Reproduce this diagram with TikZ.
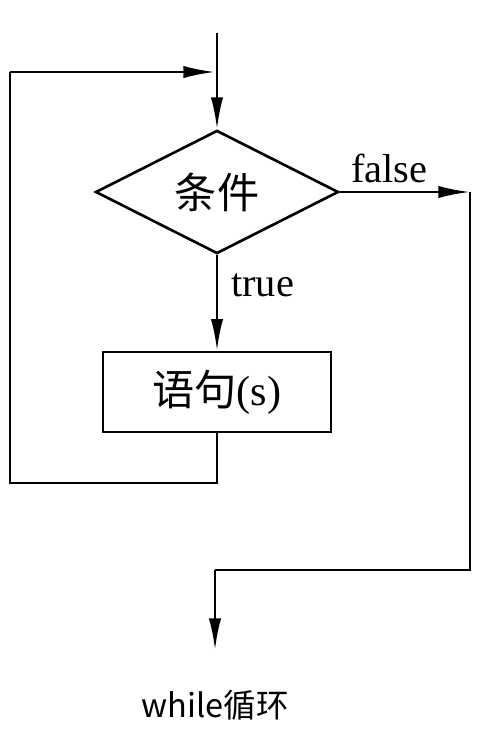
\documentclass[tikz,border=0pt]{standalone}
\usepackage{fontspec}
\setmainfont{Liberation Serif}
\newfontfamily\cjk{Noto Sans CJK SC}
\usetikzlibrary{shapes.geometric,arrows.meta}

\begin{document}
\begin{tikzpicture}
\tikzset{decision/.style = {shape=diamond,draw,line width=1.5pt,inner sep=0pt,minimum width=4.86cm,minimum height=2.1cm,font=\fontsize{24}{28}\selectfont}}
\tikzset{block/.style = {shape=rectangle,draw,line width=1.5pt,minimum width=4.56cm,minimum height=1.6cm,font=\fontsize{24}{28}\selectfont}}
\tikzset{line/.style = {-,line width=1.5pt}}
\tikzset{arr/.style = {line,-{Latex[length=18pt,width=7pt]}}}
\tikzset{lbl/.style = {font=\fontsize{23}{26}\selectfont}}

\useasboundingbox (0,0) rectangle (9.74,-14.82);

\node[decision] (cond) at (4.34,-3.84) {\cjk 条件};
\node[block] (body) at (4.34,-7.84) {{\cjk 语句}(s)};

\coordinate (start) at (4.34,-0.66);
\coordinate (join) at (4.30,-1.44);
\coordinate (lt) at (0.2,-1.44);
\coordinate (lb) at (4.34,-9.66);
\coordinate (fr) at (9.4,-3.84);
\coordinate (fd) at (9.4,-11.4);
\coordinate (fc) at (4.30,-11.4);
\coordinate (out) at (4.30,-13.0);

\draw[arr] (start) to (cond.north);
\draw[arr] (cond.south) to node[lbl,right,pos=0.32,xshift=4pt] {true} (body.north);
\draw[line] (body.south) -- (lb) -| (lt);
\draw[arr] (lt) to (join);
\draw[arr] (cond.east) to node[lbl,above,pos=0.38,yshift=1pt] {false} (fr);
\draw[line] (fr) -- (fd) -- (fc);
\draw[arr] (fc) to (out);

\node[font=\cjk\fontsize{18.5}{22}\selectfont] (cap) at (4.3,-14.1) {while循环};

\end{tikzpicture}
\end{document}
